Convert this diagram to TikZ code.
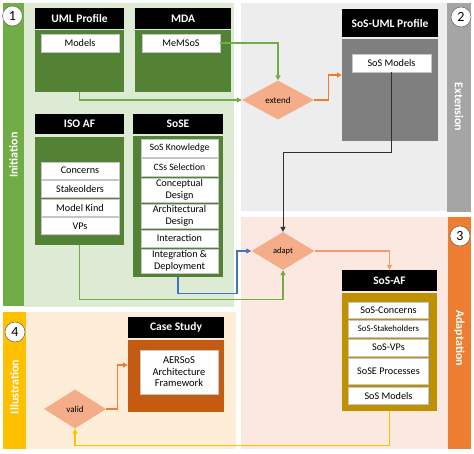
\documentclass[tikz,border=0pt]{standalone}
\usepackage{fontspec}
\setmainfont{Carlito}
\usetikzlibrary{shapes.geometric,arrows.meta,shadows}
\definecolor{bgone}{HTML}{DDEBD5}
\definecolor{barone}{HTML}{70AD47}
\definecolor{gbody}{HTML}{548235}
\definecolor{bgtwo}{HTML}{EDEDED}
\definecolor{bartwo}{HTML}{A5A5A5}
\definecolor{greybody}{HTML}{7F7F7F}
\definecolor{bgthree}{HTML}{FBE9E1}
\definecolor{barthree}{HTML}{ED7D31}
\definecolor{bgfour}{HTML}{FDEDD9}
\definecolor{barfour}{HTML}{FFC000}
\definecolor{goldbody}{HTML}{BF9000}
\definecolor{brownbody}{HTML}{C55A11}
\definecolor{diafill}{HTML}{F5AC88}
\definecolor{cgreen}{HTML}{70AD47}
\definecolor{corange}{HTML}{ED7D31}
\definecolor{clorange}{HTML}{F19A6E}
\definecolor{cblue}{HTML}{4472C4}
\definecolor{cdark}{HTML}{303030}
\definecolor{cgold}{HTML}{FFC000}
\begin{document}
\begin{tikzpicture}[x=1pt,y=-1pt,
  hdr/.style={fill=black, text=white, font=\fontsize{11.5}{13}\selectfont\bfseries, inner sep=0pt},
  bodybox/.style={inner sep=0pt},
  wbox/.style={fill=white, draw=gray!45, line width=0.4pt, align=center, inner sep=0pt,
    font=\fontsize{10.2}{11.5}\selectfont,
    drop shadow={shadow xshift=1pt, shadow yshift=-1pt, opacity=0.45}},
  dia/.style={diamond, fill=diafill, inner sep=0pt, font=\fontsize{8.5}{9}\selectfont},
  barlab/.style={text=white, font=\fontsize{12}{13}\selectfont\bfseries},
  num/.style={circle, fill=white, draw=gray!80!black, line width=0.5pt, minimum size=20pt, inner sep=0pt, font=\fontsize{14}{16}\selectfont},
  con/.style={line width=1.4pt, -{Triangle[length=5pt,width=5pt]}}
]
\useasboundingbox (0,0) rectangle (474,453);
\fill[white] (0,0) rectangle (474,453);
% zones
\fill[bgone] (24,3) rectangle (234,307);
\fill[barone] (3,3) rectangle (24,306);
\fill[bgtwo] (241,3) rectangle (447,211);
\fill[bartwo] (447,3) rectangle (471,212);
\fill[bgthree] (241,217) rectangle (448,449);
\fill[barthree] (448,217) rectangle (471,449);
\fill[bgfour] (26,312) rectangle (236,449);
\fill[barfour] (3,312) rectangle (26,449);
% bar labels
\node[barlab, rotate=90] (lab1) at (13.5,155) {Initiation};
\node[barlab, rotate=-90] (lab2) at (459,107) {Extension};
\node[barlab, rotate=-90] (lab3) at (459.5,338) {Adaptation};
\node[barlab, rotate=90] (lab4) at (14.5,387) {Illustration};
\node[num] (n1) at (12.5,16) {1};
\node[num] (n2) at (461,17) {2};
\node[num] (n3) at (460,236) {3};
\node[num] (n4) at (15,332) {4};
% UML Profile
\node[hdr, minimum width=89pt, minimum height=21pt] (umlh) at (79.5,18.5) {UML Profile};
\node[bodybox, fill=gbody, minimum width=89pt, minimum height=62pt] (umlb) at (79.5,61) {};
\node[wbox, minimum width=78pt, minimum height=18pt] (models) at (80,43) {Models};
% MDA
\node[hdr, minimum width=96pt, minimum height=21pt] (mdah) at (183,18.5) {MDA};
\node[bodybox, fill=gbody, minimum width=96pt, minimum height=62pt] (mdab) at (183,61) {};
\node[wbox, minimum width=78pt, minimum height=18pt] (mem) at (181,43) {MeMSoS};
% ISO AF
\node[hdr, minimum width=89pt, minimum height=20pt] (isoh) at (79.5,124) {ISO AF};
\node[bodybox, fill=gbody, minimum width=89pt, minimum height=108pt] (isob) at (79.5,191) {};
\node[wbox, minimum width=78pt, minimum height=17pt] (conc) at (80,170.5) {Concerns};
\node[wbox, minimum width=78pt, minimum height=17pt] (stak) at (80,189) {Stakeolders};
\node[wbox, minimum width=78pt, minimum height=17pt] (mkind) at (80,207.5) {Model Kind};
\node[wbox, minimum width=78pt, minimum height=17pt] (vps) at (80,226) {VPs};
% SoSE
\node[hdr, minimum width=90pt, minimum height=20pt] (soseh) at (178,124) {SoSE};
\node[bodybox, fill=gbody, minimum width=90pt, minimum height=141pt] (soseb) at (178,206.5) {};
\node[wbox, minimum width=77pt, minimum height=18pt, font=\fontsize{9.7}{11}\selectfont] (sk) at (179.5,148) {SoS Knowledge};
\node[wbox, minimum width=77pt, minimum height=18pt, font=\fontsize{9.7}{11}\selectfont] (css) at (179.5,167) {CSs Selection};
\node[wbox, minimum width=77pt, minimum height=24pt] (cd) at (179.5,190) {Conceptual\\Design};
\node[wbox, minimum width=77pt, minimum height=24pt] (ad) at (179.5,216) {Architectural\\Design};
\node[wbox, minimum width=77pt, minimum height=17pt] (inter) at (179.5,238.5) {Interaction};
\node[wbox, minimum width=77pt, minimum height=24pt] (intd) at (179.5,261) {Integration \&\\Deployment};
% SoS-UML Profile
\node[hdr, minimum width=96pt, minimum height=28pt] (sosuh) at (390,23) {SoS-UML Profile};
\node[bodybox, fill=greybody, minimum width=96pt, minimum height=102pt] (sosub) at (390,90) {};
\node[wbox, minimum width=79pt, minimum height=18pt] (sosm) at (391.5,63) {SoS Models};
% SoS-AF
\node[hdr, minimum width=95pt, minimum height=21pt] (afh) at (389.5,280.5) {SoS-AF};
\node[bodybox, fill=goldbody, minimum width=95pt, minimum height=118pt] (afb) at (389.5,352) {};
\node[wbox, minimum width=80pt, minimum height=16pt] (afc) at (388.5,310) {SoS-Concerns};
\node[wbox, minimum width=80pt, minimum height=17pt, font=\fontsize{8.8}{10}\selectfont] (afs) at (388.5,328.5) {SoS-Stakeholders};
\node[wbox, minimum width=80pt, minimum height=17pt] (afv) at (388.5,347.5) {SoS-VPs};
\node[wbox, minimum width=80pt, minimum height=26pt] (afp) at (388.5,371) {SoSE Processes};
\node[wbox, minimum width=80pt, minimum height=17pt] (afm) at (388.5,395.5) {SoS Models};
% Case Study
\node[hdr, minimum width=96pt, minimum height=21pt] (csh) at (176,327.5) {Case Study};
\node[bodybox, fill=brownbody, minimum width=96pt, minimum height=72pt] (csb) at (176,376) {};
\node[wbox, minimum width=78pt, minimum height=44pt, font=\fontsize{10.5}{11.5}\selectfont] (aer) at (179,372) {AERSoS\\Architecture\\Framework};
% decisions
\node[dia, minimum width=72pt, minimum height=39pt, font=\fontsize{9}{10}\selectfont] (extend) at (278,100) {extend};
\node[dia, minimum width=63pt, minimum height=38pt] (adapt) at (283,251) {adapt};
\node[dia, minimum width=62pt, minimum height=39pt, font=\fontsize{9}{10}\selectfont] (valid) at (75,409) {valid};
% connectors
\draw[con, cgreen] (mem.east) -| (extend.north);
\draw[con, cgreen] (umlb.south) |- (extend.west);
\draw[con, corange] (extend.east) -- ++(14,0) |- ([yshift=15pt]sosub.west);
\draw[con, cdark, line width=1pt] (sosm.south) -- ++(0,80) -| (adapt.north);
\draw[con, cblue] (soseb.south) -- ++(0,16) -- ++(59,0) |- (adapt.west);
\draw[con, cgreen] (isob.south) -- ++(0,54) -| (adapt.south);
\draw[con, clorange] (adapt.east) -| (afh.north);
\draw[con, cgold] (afb.south) -- ++(0,34) -| (valid.south);
\draw[con, corange] (valid.east) -- ++(11,0) |- ([yshift=11pt]csb.west);
\end{tikzpicture}
\end{document}
